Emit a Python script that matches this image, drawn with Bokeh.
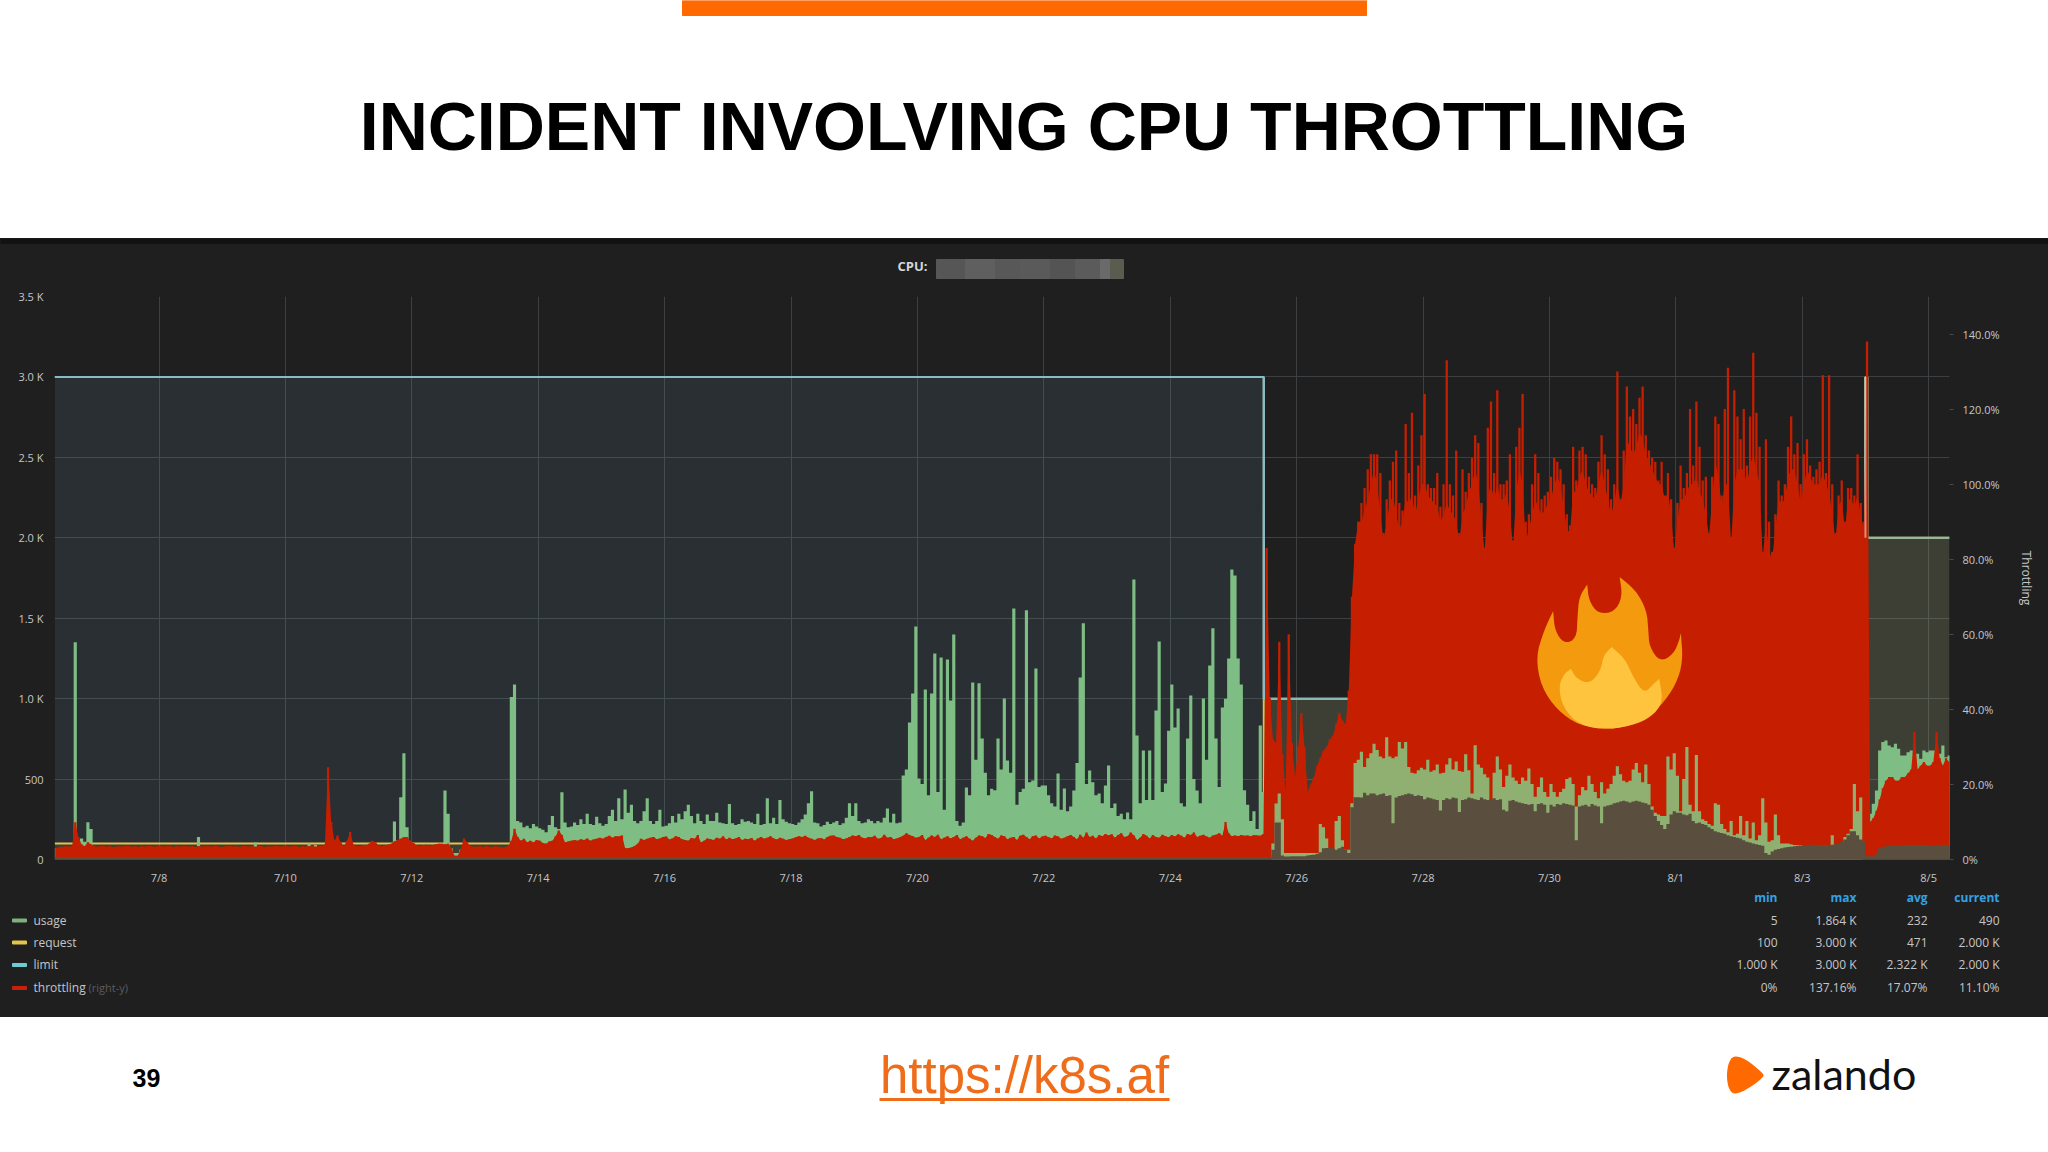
import math
import numpy as np
from bokeh.embed import file_html
from bokeh.layouts import column
from bokeh.models import FixedTicker, Label, LinearAxis, Range1d
from bokeh.plotting import figure
from bokeh.resources import INLINE

# ---------- chart values: one row per day, 20 samples a day (0.05 day apart), days counted from 7/8 ----------
tick_days = [0, 2, 4, 6, 8, 10, 12, 14, 16, 18, 20, 22, 24, 26, 28]
tick_names = ["7/8", "7/10", "7/12", "7/14", "7/16", "7/18", "7/20", "7/22", "7/24", "7/26", "7/28", "7/30", "8/1", "8/3", "8/5"]
cpu_ticks = [0, 500, 1000, 1500, 2000, 2500, 3000, 3500]
cpu_names = ["0", "500", "1.0 K", "1.5 K", "2.0 K", "2.5 K", "3.0 K", "3.5 K"]
pct_ticks = [0, 20, 40, 60, 80, 100, 120, 140]
pct_names = ["0%", "20.0%", "40.0%", "60.0%", "80.0%", "100.0%", "120.0%", "140.0%"]

# CPU limit and request, as breakpoints
limit_days = [-1.65, 17.48, 27.0, 27.03, 28.33]
limit_vals = [3000, 1000, 3000, 2000, 2000]
request_vals = [100, 1000, 3000, 2000, 2000]
limit_change_days = [17.48, 27.0]
limit_change_from = [1000, 2000]
limit_change_to = [3000, 3000]

usage_lead = [70, 70, 72, 70, 70, 72, 1350, 120, 130, 110, 232, 190, 80, 72, 70, 70, 70, 72, 70, 68, 70, 70, 70, 72, 70, 70, 70, 70, 70, 70, 70, 72, 70]
usage_by_day = [
    [70, 70, 72, 70, 70, 70, 68, 70, 72, 70, 70, 70, 140, 72, 70, 70, 68, 70, 70, 72],
    [70, 70, 68, 70, 72, 70, 70, 70, 70, 70, 105, 72, 70, 70, 70, 72, 70, 70, 68, 70],
    [70, 72, 70, 70, 70, 68, 70, 100, 72, 90, 70, 70, 72, 70, 70, 70, 70, 72, 70, 70],
    [70, 70, 72, 70, 70, 70, 72, 70, 70, 70, 68, 70, 72, 90, 236, 120, 387, 661, 200, 110],
    [90, 72, 70, 70, 70, 72, 70, 70, 70, 70, 429, 285, 70, 40, 40, 60, 70, 72, 70, 70],
    [70, 72, 70, 70, 70, 68, 70, 72, 70, 70, 75, 1010, 1088, 240, 230, 200, 210, 195, 220, 205],
    [195, 185, 170, 215, 270, 200, 190, 418, 230, 200, 205, 230, 215, 250, 220, 285, 220, 215, 265, 225],
    [210, 220, 270, 310, 240, 380, 250, 435, 290, 340, 240, 225, 240, 300, 380, 240, 220, 240, 310, 205],
    [210, 225, 270, 230, 285, 250, 300, 340, 270, 225, 285, 240, 220, 280, 240, 240, 290, 230, 225, 220],
    [345, 225, 215, 220, 250, 235, 240, 230, 220, 285, 215, 220, 380, 225, 260, 220, 370, 250, 235, 225],
    [220, 215, 230, 250, 280, 350, 425, 230, 225, 205, 215, 235, 220, 230, 240, 215, 225, 260, 350, 270],
    [350, 240, 225, 230, 250, 240, 225, 240, 230, 260, 317, 230, 285, 225, 230, 522, 560, 852, 1032, 1449],
    [504, 470, 1057, 400, 1032, 1281, 420, 1256, 310, 1244, 989, 1399, 240, 210, 230, 448, 400, 1101, 620, 1095],
    [752, 540, 400, 440, 430, 752, 560, 1001, 616, 540, 1561, 340, 420, 440, 1549, 480, 491, 1188, 450, 460],
    [460, 400, 350, 330, 535, 310, 441, 300, 330, 429, 600, 1132, 1468, 470, 553, 480, 400, 410, 350, 460],
    [585, 320, 348, 270, 285, 250, 292, 250, 1741, 771, 350, 678, 370, 678, 370, 927, 1356, 420, 473, 800],
    [1088, 820, 939, 350, 330, 752, 1020, 500, 429, 350, 1001, 620, 1206, 1437, 752, 450, 945, 1000, 1250, 1803],
    [1766, 1250, 1088, 430, 340, 240, 300, 190, 833, 420, 100, 100, 100, 348, 410, 250, 40, 40, 40, 40],
    [40, 40, 40, 40, 40, 40, 40, 220, 200, 130, 40, 40, 240, 270, 120, 60, 60, 350, 600, 620],
    [670, 575, 630, 660, 720, 680, 640, 630, 760, 640, 630, 640, 730, 690, 730, 575, 540, 535, 555, 570],
    [560, 620, 545, 555, 590, 535, 540, 590, 630, 560, 610, 550, 545, 655, 555, 410, 710, 590, 570, 530],
    [510, 365, 540, 640, 560, 450, 520, 590, 510, 490, 470, 510, 490, 565, 470, 390, 450, 510, 420, 390],
    [470, 420, 390, 420, 440, 500, 510, 470, 330, 400, 450, 430, 520, 470, 420, 380, 480, 410, 440, 470],
    [520, 580, 530, 490, 480, 490, 560, 600, 540, 480, 590, 470, 330, 290, 280, 270, 270, 640, 560, 660],
    [520, 300, 500, 700, 340, 300, 650, 300, 250, 240, 220, 210, 350, 340, 220, 190, 170, 240, 150, 160],
    [270, 150, 240, 130, 230, 120, 150, 380, 230, 110, 120, 280, 150, 100, 100, 100, 95, 90, 90, 90],
    [90, 90, 90, 90, 85, 85, 85, 85, 85, 150, 85, 85, 85, 140, 160, 190, 470, 300, 385, 380],
    [222, 284, 346, 429, 678, 730, 740, 709, 698, 719, 688, 647, 647, 667, 678, 647, 657, 626, 678, 667],
]
usage_tail = [678, 678, 626, 657, 709, 636, 647]

throttling_lead = [3.0, 3.3, 3.4, 3.5, 3.4, 3.6, 9.9, 6.0, 4.0, 3.5, 4.6, 4.0, 3.5, 3.4, 3.5, 3.6, 3.4, 3.5, 3.3, 3.4, 3.5, 3.4, 3.6, 3.5, 3.4, 3.5, 3.3, 3.5, 3.4, 3.6, 3.5, 3.4, 3.5]
throttling_by_day = [
    [3.5, 3.4, 3.6, 3.5, 3.3, 3.5, 3.4, 3.6, 3.5, 3.4, 3.5, 3.3, 3.6, 3.4, 3.5, 3.5, 3.4, 3.6, 3.5, 3.3],
    [3.4, 3.5, 3.6, 3.4, 3.5, 3.3, 3.5, 3.6, 3.4, 3.5, 3.4, 3.6, 3.5, 3.3, 3.5, 3.4, 3.6, 3.5, 3.4, 3.5],
    [3.5, 3.4, 3.6, 3.5, 3.3, 3.5, 3.4, 3.6, 3.5, 3.4, 3.5, 3.6, 4.0, 24.6, 10.0, 5.0, 6.4, 4.5, 3.5, 5.0],
    [7.3, 4.0, 3.6, 3.5, 3.7, 3.8, 4.2, 5.0, 4.5, 3.8, 3.6, 3.7, 3.9, 4.2, 4.8, 5.2, 5.5, 6.0, 6.0, 5.0],
    [4.4, 3.8, 3.6, 3.7, 3.9, 3.6, 3.8, 4.0, 4.2, 4.2, 4.0, 4.2, 3.0, 1.0, 1.0, 2.5, 5.6, 4.5, 3.6, 3.4],
    [3.4, 3.5, 3.3, 3.6, 3.4, 3.3, 3.5, 3.4, 3.2, 3.3, 3.6, 5.0, 8.2, 6.0, 5.0, 5.5, 4.6, 5.0, 4.5, 5.2],
    [5.0, 4.4, 4.2, 4.8, 5.0, 6.2, 7.7, 6.5, 4.5, 4.8, 5.0, 5.2, 5.0, 5.4, 5.2, 5.6, 5.0, 5.3, 5.5, 5.8],
    [5.5, 6.0, 6.3, 5.8, 6.2, 6.1, 6.4, 3.0, 3.0, 3.2, 3.6, 4.2, 5.5, 5.2, 5.5, 5.8, 6.0, 5.4, 5.6, 6.0],
    [6.1, 5.3, 5.6, 6.2, 6.0, 5.4, 5.2, 5.0, 5.7, 5.5, 6.5, 4.5, 5.0, 5.6, 5.4, 5.2, 5.8, 5.5, 6.2, 5.3],
    [5.8, 5.4, 5.6, 6.0, 5.2, 5.5, 5.4, 5.7, 5.0, 5.6, 6.0, 5.5, 5.8, 6.2, 5.6, 5.3, 5.8, 5.5, 5.2, 5.4],
    [5.6, 5.9, 6.2, 6.0, 6.3, 5.8, 5.5, 5.2, 5.6, 5.7, 5.3, 6.0, 6.3, 6.4, 6.0, 5.8, 5.4, 5.6, 6.0, 6.4],
    [6.2, 6.5, 5.8, 5.6, 6.0, 5.9, 6.3, 5.5, 5.7, 6.6, 5.8, 6.0, 5.4, 5.6, 5.9, 6.3, 7.0, 6.5, 6.2, 5.8],
    [6.0, 6.5, 5.2, 5.8, 6.4, 6.0, 6.6, 5.4, 5.8, 6.2, 5.6, 6.0, 6.5, 5.4, 5.8, 6.2, 5.5, 5.0, 5.8, 6.4],
    [6.2, 5.7, 6.8, 6.5, 6.0, 5.5, 6.4, 6.2, 5.4, 5.8, 6.0, 5.2, 6.3, 6.6, 6.0, 5.4, 6.2, 6.4, 5.6, 6.1],
    [6.3, 5.9, 5.6, 6.4, 6.1, 5.5, 5.8, 6.2, 6.5, 6.0, 5.4, 6.6, 5.8, 7.2, 6.0, 6.3, 5.6, 6.5, 6.2, 6.8],
    [6.4, 6.7, 5.8, 6.5, 7.0, 6.0, 6.2, 7.2, 6.4, 5.2, 5.8, 6.8, 6.3, 5.6, 6.5, 6.0, 5.8, 6.6, 6.2, 5.9],
    [6.5, 6.1, 6.7, 6.3, 5.8, 6.8, 6.5, 7.2, 6.0, 6.3, 6.6, 6.1, 5.8, 6.4, 6.6, 7.0, 6.3, 10.0, 7.0, 6.2],
    [6.4, 6.2, 6.5, 6.3, 6.4, 6.2, 6.5, 6.4, 6.3, 6.8, 83, 43, 32, 31, 58, 28, 18, 60, 31, 22],
    [30, 39, 30, 18, 20, 22, 25, 27, 29, 30, 32, 33, 36, 39, 37, 36, 45, 70, 84, 90],
    [95, 99, 104, 108, 108, 108, 103, 87, 96, 101, 106, 109, 95, 93, 116, 103, 119, 97, 105, 113],
    [124, 100, 99, 99, 103, 94, 100, 133, 100, 97, 109, 87, 104, 98, 103, 107, 113, 111, 95, 83],
    [115, 122, 103, 125, 100, 100, 101, 108, 85, 110, 115, 124, 90, 92, 100, 108, 103, 96, 97, 98],
    [102, 107, 106, 104, 100, 92, 89, 110, 101, 109, 110, 108, 102, 100, 99, 106, 113, 108, 104, 96],
    [100, 130, 96, 109, 126, 118, 120, 116, 123, 126, 113, 109, 107, 106, 101, 106, 97, 103, 96, 83],
    [95, 105, 99, 103, 120, 105, 122, 110, 101, 102, 87, 102, 118, 116, 97, 120, 131, 86, 125, 118],
    [112, 120, 105, 118, 135, 119, 110, 82, 112, 90, 82, 92, 101, 97, 100, 110, 118, 108, 111, 100],
    [108, 112, 105, 102, 104, 106, 129, 103, 129, 100, 87, 97, 101, 90, 99, 99, 97, 108, 95, 90],
    [138, 10, 11, 13, 16, 19, 21, 22, 22, 21, 21, 22, 22, 23, 24, 34, 24, 25, 26, 25],
]
throttling_tail = [25, 26, 34, 27, 25, 27, 26]

# the solid body under the thin throttling spikes, 7/27 to 8/4
throttling_body_by_day = [
    [90, 93, 96, 100, 104, 100, 92, 85, 90, 95, 97, 92, 88, 90, 96, 95, 97, 92, 96, 100],
    [100, 97, 96, 95, 94, 90, 92, 95, 93, 92, 90, 85, 92, 94, 98, 100, 104, 100, 90, 82],
    [97, 100, 96, 100, 96, 96, 98, 92, 83, 98, 104, 100, 85, 88, 92, 96, 94, 92, 93, 95],
    [96, 100, 102, 100, 94, 88, 87, 98, 98, 102, 104, 100, 98, 97, 96, 100, 104, 100, 96, 92],
    [95, 100, 95, 100, 112, 110, 108, 110, 114, 112, 108, 106, 104, 102, 100, 100, 96, 98, 92, 82],
    [90, 96, 96, 98, 100, 100, 102, 98, 96, 92, 86, 96, 106, 102, 94, 100, 100, 84, 100, 104],
    [104, 104, 100, 105, 108, 104, 100, 80, 90, 82, 80, 88, 96, 95, 96, 102, 104, 104, 100, 95],
    [100, 104, 102, 100, 100, 100, 103, 100, 98, 92, 85, 94, 96, 88, 96, 96, 94, 97, 92, 88],
]

# the brown level under the usage band
floor_lead = [15, 15, 14, 15, 15, 16, 15, 15, 14, 15, 15, 15, 16, 15, 15, 14, 15, 15, 15, 15, 16, 15, 15, 14, 15, 15, 15, 15, 16, 15, 15, 15, 14]
floor_by_day = [
    [15, 15, 14, 15, 15, 16, 15, 15, 14, 15, 15, 15, 16, 15, 15, 14, 15, 15, 15, 16],
    [15, 14, 15, 15, 15, 16, 15, 15, 14, 15, 15, 16, 15, 15, 15, 14, 15, 15, 16, 15],
    [15, 15, 14, 15, 16, 15, 15, 14, 15, 15, 15, 16, 15, 15, 14, 15, 15, 16, 15, 15],
    [14, 15, 15, 16, 15, 15, 14, 15, 15, 16, 15, 15, 15, 14, 15, 15, 16, 15, 15, 15],
    [15, 14, 15, 15, 16, 15, 15, 15, 14, 15, 15, 16, 15, 15, 15, 14, 15, 15, 16, 15],
    [15, 15, 14, 15, 15, 16, 15, 15, 14, 15, 15, 15, 16, 15, 15, 14, 15, 15, 15, 16],
    [15, 14, 15, 15, 15, 16, 15, 15, 14, 15, 15, 16, 15, 15, 15, 14, 15, 15, 16, 15],
    [15, 15, 14, 15, 16, 15, 15, 14, 15, 15, 15, 16, 15, 15, 14, 15, 15, 16, 15, 15],
    [14, 15, 15, 16, 15, 15, 14, 15, 15, 16, 15, 15, 15, 14, 15, 15, 16, 15, 15, 15],
    [15, 14, 15, 15, 16, 15, 15, 15, 14, 15, 15, 16, 15, 15, 15, 14, 15, 15, 16, 15],
    [15, 15, 14, 15, 15, 16, 15, 15, 14, 15, 15, 15, 16, 15, 15, 14, 15, 15, 15, 16],
    [15, 14, 15, 15, 15, 16, 15, 15, 14, 15, 15, 16, 15, 15, 15, 14, 15, 15, 16, 15],
    [15, 15, 14, 15, 16, 15, 15, 14, 15, 15, 15, 16, 15, 15, 14, 15, 15, 16, 15, 15],
    [14, 15, 15, 16, 15, 15, 14, 15, 15, 16, 15, 15, 15, 14, 15, 15, 16, 15, 15, 15],
    [15, 14, 15, 15, 16, 15, 15, 15, 14, 15, 15, 16, 15, 15, 15, 14, 15, 15, 16, 15],
    [15, 15, 14, 15, 15, 16, 15, 15, 14, 15, 15, 15, 16, 15, 15, 14, 15, 15, 15, 16],
    [15, 14, 15, 15, 15, 16, 15, 15, 14, 15, 15, 16, 15, 15, 15, 14, 15, 15, 16, 15],
    [15, 15, 14, 15, 16, 15, 15, 14, 15, 15, 15, 16, 60, 230, 230, 25, 18, 18, 20, 20],
    [20, 20, 20, 25, 28, 30, 35, 45, 70, 72, 74, 70, 60, 70, 80, 60, 40, 325, 387, 387],
    [385, 415, 400, 410, 410, 400, 405, 410, 395, 400, 225, 385, 395, 400, 405, 410, 405, 395, 400, 395],
    [375, 385, 380, 375, 370, 305, 370, 380, 375, 385, 380, 295, 370, 375, 385, 380, 375, 370, 385, 375],
    [370, 375, 380, 370, 375, 310, 300, 365, 370, 360, 355, 350, 345, 340, 345, 300, 345, 350, 340, 290],
    [340, 330, 345, 340, 350, 345, 340, 335, 120, 330, 335, 340, 330, 345, 335, 330, 225, 330, 335, 340],
    [350, 355, 360, 365, 360, 355, 360, 365, 360, 355, 350, 340, 310, 270, 240, 215, 190, 220, 280, 300],
    [290, 290, 280, 275, 285, 240, 225, 230, 220, 215, 200, 190, 175, 170, 165, 160, 150, 145, 140, 135],
    [130, 120, 110, 105, 100, 95, 90, 85, 40, 30, 50, 60, 65, 70, 75, 78, 80, 82, 85, 87],
    [90, 90, 92, 92, 90, 90, 88, 88, 90, 92, 95, 100, 110, 125, 150, 175, 175, 150, 125, 115],
    [20, 20, 20, 40, 70, 78, 82, 85, 85, 88, 90, 88, 90, 92, 90, 92, 90, 90, 92, 90],
]
floor_tail = [88, 90, 92, 90, 90, 92, 90]

legend_names = ["usage", "request", "limit", "throttling"]
legend_colors = ["#7fb27a", "#e5c44a", "#6ecbd0", "#c8200a"]
table_heads = ["min", "max", "avg", "current"]
table_rows = [
    ["5", "1.864 K", "232", "490"],
    ["100", "3.000 K", "471", "2.000 K"],
    ["1.000 K", "3.000 K", "2.322 K", "2.000 K"],
    ["0%", "137.16%", "17.07%", "11.10%"],
]

# ---------- layout constants in page pixels ----------
ORANGE = "#ff6900"
PANEL = "#1f1f20"
TXT = "#c6c6c6"
FONT = "Open Sans"


def flat(lead, rows, tail):
    for r in rows:
        assert len(r) == 20, r
    out = list(lead)
    for r in rows:
        out += r
    return np.array(out + list(tail), dtype=float)


usage = flat(usage_lead, usage_by_day, usage_tail)
throttling = flat(throttling_lead, throttling_by_day, throttling_tail)
floor = flat(floor_lead, floor_by_day, floor_tail)
assert len(usage) == len(throttling) == len(floor) == 600
t = -1.65 + 0.05 * np.arange(600)
t_end = np.append(t, t[-1] + 0.05)

body = throttling.copy()
body_start = len(throttling_lead) + 19 * 20
for k, r in enumerate(throttling_body_by_day):
    assert len(r) == 20, r
    body[body_start + k * 20: body_start + (k + 1) * 20] = r


def ext(v):
    return np.append(v, v[-1])


def strip(height, y_top, color):
    f = figure(width=2048, height=height, x_range=Range1d(0, 2048), y_range=Range1d(y_top + height, y_top),
               x_axis_type=None, y_axis_type=None, toolbar_location=None, output_backend="svg",
               min_border=0, outline_line_color=None, background_fill_color=None, border_fill_color=None,
               frame_align=False, styles={"background-color": color})
    f.grid.visible = False
    f.quad(left=[-10], right=[2058], top=[y_top - 10], bottom=[y_top + height + 10], color=color, line_color=None)
    return f


def txt(f, x, y, s, size, color=TXT, align="left", style="normal", font=FONT, angle=0):
    f.add_layout(Label(x=x, y=y, text=s, text_font=font, text_font_size=f"{size}px", text_color=color,
                       text_align=align, text_baseline="middle", text_font_style=style, angle=angle))


def smooth(xs, ys, n=3):
    pts = list(zip(xs, ys))
    for _ in range(n):
        new = []
        for i in range(len(pts)):
            a, b = pts[i], pts[(i + 1) % len(pts)]
            new.append((0.75 * a[0] + 0.25 * b[0], 0.75 * a[1] + 0.25 * b[1]))
            new.append((0.25 * a[0] + 0.75 * b[0], 0.25 * a[1] + 0.75 * b[1]))
        pts = new
    return [p[0] for p in pts], [p[1] for p in pts]


# ---------- header ----------
head = strip(238, 0, "#ffffff")
head.quad(left=[682], right=[1366], top=[0], bottom=[15], color=ORANGE)
txt(head, 1023.5, 125, "INCIDENT INVOLVING CPU THROTTLING", 68, "#000000", "center", "bold", "Liberation Sans")

# ---------- strip with the panel title ----------
top = strip(47, 238, PANEL)
top.quad(left=[-10], right=[2058], top=[228], bottom=[243], color="#121213")
txt(top, 897, 265, "CPU:", 13, "#d6d6d6", style="bold")
blur_left = [936, 965, 995, 1020, 1050, 1075, 1100, 1110]
blur_right = [965, 995, 1020, 1050, 1075, 1100, 1110, 1123]
blur_color = ["#565656", "#5f5f5f", "#585858", "#5a5a5a", "#545454", "#5b5b5b", "#6a6a6a", "#5a5c50"]
top.quad(left=blur_left, right=blur_right, top=[259] * 8, bottom=[278] * 8, color=blur_color)

# ---------- the chart ----------
X0, X1 = -1.6535, 28.33
p = figure(width=2048, height=602, x_range=Range1d(X0, X1), y_range=Range1d(0, 3500),
           toolbar_location=None, output_backend="svg", background_fill_color=PANEL, border_fill_color=None,
           outline_line_color=None, min_border_left=54, min_border_right=99, min_border_top=11, min_border_bottom=26,
           frame_align=False, styles={"background-color": PANEL})
p.extra_y_ranges = {"pct": Range1d(0, 150)}

p.xaxis.ticker = FixedTicker(ticks=tick_days)
p.xaxis.major_label_overrides = dict(zip(tick_days, tick_names))
p.yaxis.ticker = FixedTicker(ticks=cpu_ticks)
p.yaxis.major_label_overrides = dict(zip(cpu_ticks, cpu_names))
right = LinearAxis(y_range_name="pct", ticker=FixedTicker(ticks=pct_ticks), axis_label="Throttling")
right.major_label_overrides = dict(zip(pct_ticks, pct_names))
p.add_layout(right, "right")
for ax in (p.xaxis[0], p.yaxis[0], right):
    ax.axis_line_color = None
    ax.major_tick_line_color = None
    ax.minor_tick_line_color = None
    ax.major_label_text_color = TXT
    ax.major_label_text_font = FONT
    ax.major_label_text_font_size = "11px"
p.xaxis[0].major_label_standoff = 4
p.yaxis[0].major_label_standoff = 5
right.major_label_standoff = 9
right.major_tick_line_color = "#4a4a4a"
right.major_tick_out = 4
right.major_tick_in = 0
right.axis_label_text_color = TXT
right.axis_label_text_font = FONT
right.axis_label_text_font_size = "12px"
right.axis_label_text_font_style = "normal"
right.axis_label_standoff = 15
p.xgrid.ticker = FixedTicker(ticks=tick_days)
p.ygrid.ticker = FixedTicker(ticks=cpu_ticks)
p.grid.grid_line_color = "#3c4042"
p.grid.grid_line_width = 1

# fills of limit and request
p.varea_step(x=limit_days, y1=[0] * 5, y2=limit_vals, step_mode="after", fill_color="#7eb6c4", fill_alpha=0.11)
p.varea_step(x=limit_days, y1=[0] * 5, y2=request_vals, step_mode="after", fill_color="#e5c84a", fill_alpha=0.11)
# limit and request lines
p.step(limit_days, request_vals, mode="after", line_color="#e3c24a", line_width=2)
p.step(limit_days, limit_vals, mode="after", line_color="#86bcb4", line_width=2)
# usage, under the throttling area
p.varea_step(x=t_end, y1=np.zeros(601), y2=ext(usage), step_mode="after", fill_color="#7ebd83")
# throttling on the right axis: solid body plus thin spikes
p.varea(x=t + 0.025, y1=np.zeros(600), y2=body, fill_color="#c61f00", y_range_name="pct")
p.vbar(x=t + 0.025, width=0.036, top=throttling, bottom=0, fill_color="#c61f00", line_color=None, y_range_name="pct")
# usage band as it shows over the throttling area
band = (t >= 17.6) & (t < 26.99)
band_end = np.append(band, False)
band_x = t_end[band_end]
p.varea_step(x=band_x, y1=np.zeros(len(band_x)), y2=usage[band], step_mode="after", fill_color="#8fb070")
# brown level
p.varea_step(x=t_end, y1=np.zeros(601), y2=ext(floor), step_mode="after", fill_color="#5a4f3f")
# limit changes, over the red
p.segment(x0=limit_change_days, x1=limit_change_days, y0=limit_change_from, y1=limit_change_to,
          line_color="#e8d8d8", line_alpha=0.6, line_width=2)
p.step(limit_days[:2], limit_vals[:2], mode="after", line_color="#86bcc4", line_width=2)


def xd(px):
    return (px - 158.5) / 63.2


def yd(py):
    return (859 - py) / 0.1608


# flame emoji, traced in the zoomed picture and mapped to the chart's scales (tips repeated to keep them sharp)
fire_outer_x = [775, 775, 775, 805, 825, 828, 830, 850, 875, 885, 888, 888, 892, 880, 850, 810, 755, 700, 660, 630, 620, 635, 652, 652, 652, 655, 672, 695, 697, 700, 715, 715, 715, 718, 735, 765, 780]
fire_outer_y = [740, 740, 740, 780, 840, 900, 950, 995, 970, 930, 908, 908, 990, 1060, 1130, 1180, 1198, 1185, 1140, 1070, 980, 900, 842, 842, 842, 900, 940, 925, 860, 800, 762, 762, 762, 810, 850, 845, 800]
fire_inner_x = [760, 760, 760, 785, 800, 820, 838, 848, 848, 855, 840, 810, 755, 700, 670, 662, 672, 685, 685, 695, 720, 740, 745]
fire_inner_y = [950, 950, 950, 985, 1040, 1090, 1060, 1045, 1045, 1110, 1150, 1180, 1198, 1185, 1130, 1070, 1030, 1015, 1015, 1045, 1060, 1020, 975]
for fx, fy, col in ((fire_outer_x, fire_outer_y, "#f49a0e"), (fire_inner_x, fire_inner_y, "#fec43e")):
    sx, sy = smooth(fx, fy, 2)
    p.patch([xd(v / 1.849 + 1200) for v in sx], [yd(v / 3 + 330) for v in sy], fill_color=col, line_color=None)

p.add_layout(Label(x=xd(8), y=yd(582), text="CPU", text_font=FONT, text_font_size="12px", text_color=TXT,
                   text_align="center", text_baseline="middle", angle=math.pi / 2))

# ---------- legend strip ----------
leg = strip(130, 887, PANEL)
leg_y = [919.5, 941.5, 964, 987]
leg.quad(left=[12] * 4, right=[26] * 4, top=[y - 1 for y in leg_y], bottom=[y + 2 for y in leg_y], color=legend_colors)
for name, y in zip(legend_names, leg_y):
    txt(leg, 33, y, name, 12)
txt(leg, 88, 987, "(right-y)", 11, "#5c5c5c")
col_right = [1777, 1856, 1927, 1999]
for head_name, x in zip(table_heads, col_right):
    txt(leg, x, 897, head_name, 12, "#33a2e5", "right", "bold")
for row, y in zip(table_rows, leg_y):
    for cell, x in zip(row, col_right):
        txt(leg, x, y, cell, 12, align="right")

# ---------- footer ----------
foot = strip(135, 1017, "#ffffff")
txt(foot, 146, 1077, "39", 25, "#000000", "center", "bold", "Liberation Sans")
txt(foot, 1024, 1075, "https://k8s.af", 51, "#ee6c1a", "center", font="Liberation Sans")
foot.line([879, 1169], [1099, 1099], line_color="#ee6c1a", line_width=3)
logo_x = [1733, 1745, 1763, 1763, 1745, 1733, 1728, 1726, 1728]
logo_y = [1055, 1058, 1073, 1077, 1090, 1094, 1088, 1075, 1062]
sx, sy = smooth(logo_x, logo_y, 2)
foot.patch(sx, sy, fill_color=ORANGE, line_color=None)
txt(foot, 1771, 1073, "zalando", 43, "#111111", font="Lato")

page = column(head, top, p, leg, foot, spacing=0)
open("out.html", "w").write(file_html(page, INLINE))
